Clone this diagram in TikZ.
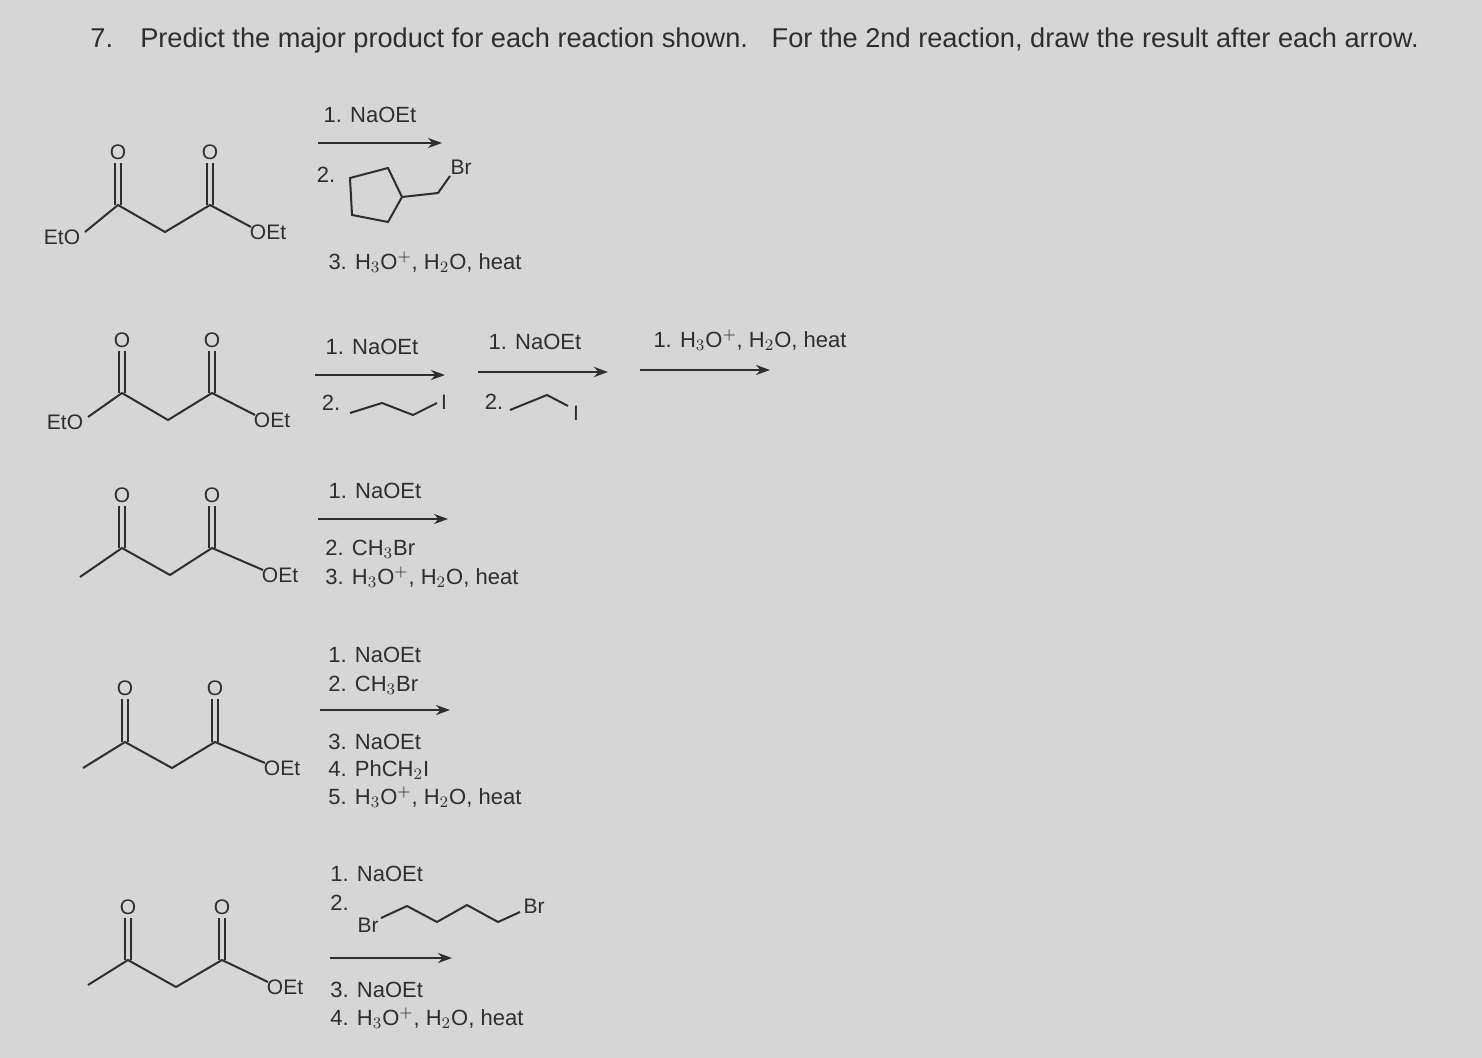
\documentclass[tikz,border=0pt]{standalone}
\usepackage{fontspec}
\setmainfont{Liberation Sans}
\usetikzlibrary{arrows.meta}
\definecolor{ink}{HTML}{2E2E2E}
\definecolor{bg}{HTML}{D6D6D6}
\begin{document}
\begin{tikzpicture}[x=0.5pt,y=-0.5pt,
  bd/.style={draw=ink,line width=1pt},
  rx/.style={draw=ink,line width=1.3pt,-{Stealth[length=7pt,width=5pt]}},
  lb/.style={text=ink,font=\fontsize{11}{12}\selectfont,inner sep=1pt},
  atm/.style={text=ink,font=\fontsize{10.5}{11}\selectfont,inner sep=0.5pt}]
\fill[bg] (0,0) rectangle (1482,1058);
\useasboundingbox (0,0) rectangle (1482,1058);
\node[lb,anchor=west,font=\fontsize{13.6}{15}\selectfont] (title) at (88,40) {7.\hspace{1em}Predict the major product for each reaction shown.\hspace{0.5em} For the 2nd reaction, draw the result after each arrow.};
\newcommand{\carb}[9]{%
  \draw[bd] (#1,#2) -- (#3,#4) -- (#5,#6) -- (#7,#4) -- (#9-17,#6-5);
  \draw[bd] (#3-3,#4) -- (#3-3,#8+11); \draw[bd] (#3+3,#4) -- (#3+3,#8+11);
  \draw[bd] (#7-3,#4) -- (#7-3,#8+11); \draw[bd] (#7+3,#4) -- (#7+3,#8+11);
  \node[atm] at (#3,#8) {O}; \node[atm] at (#7,#8) {O};
  \node[atm] at (#9,#6) {OEt};}
% R1
\carb{85}{232}{118}{205}{165}{232}{210}{152}{268}
\node[atm] (e1) at (62,237) {EtO};
\draw[rx] (318,143) -- (442,143);
\node[lb] (r1a) at (370,115) {1. NaOEt};
\node[lb] (r1b) at (326,175) {2.};
\draw[bd] (350,178)--(388,168)--(402,197)--(388,222)--(352,215)--cycle;
\draw[bd] (402,197)--(438,193)--(450,176);
\node[atm] (br1) at (461,167) {Br};
\node[lb] (r1c) at (425,262) {3. H$_3$O$^+$, H$_2$O, heat};
% R2
\carb{88}{417}{122}{393}{168}{420}{212}{340}{272}
\node[atm] (e2) at (65,422) {EtO};
\draw[rx] (315,375) -- (445,375);
\node[lb] (r2a) at (372,347) {1. NaOEt};
\node[lb] (r2b) at (331,403) {2.};
\draw[bd] (350,413)--(382,403)--(413,415)--(437,403);
\node[atm] (i1) at (444,402) {I};
\draw[rx] (478,372) -- (608,372);
\node[lb] (r2c) at (535,342) {1. NaOEt};
\node[lb] (r2d) at (494,402) {2.};
\draw[bd] (510,410)--(547,395)--(568,406);
\node[atm] (i2) at (576,413) {I};
\draw[rx] (640,370) -- (770,370);
\node[lb] (r2e) at (750,340) {1. H$_3$O$^+$, H$_2$O, heat};
% R3
\carb{80}{577}{122}{548}{170}{575}{212}{495}{280}
\draw[rx] (318,519) -- (448,519);
\node[lb] (r3a) at (375,491) {1. NaOEt};
\node[lb,anchor=west] (r3b) at (323,549) {2. CH$_3$Br};
\node[lb,anchor=west] (r3c) at (323,577) {3. H$_3$O$^+$, H$_2$O, heat};
% R4
\carb{83}{768}{125}{742}{172}{768}{215}{688}{282}
\node[lb,anchor=west] (r4a) at (326,655) {1. NaOEt};
\node[lb,anchor=west] (r4b) at (326,685) {2. CH$_3$Br};
\draw[rx] (320,710) -- (450,710);
\node[lb,anchor=west] (r4c) at (326,742) {3. NaOEt};
\node[lb,anchor=west] (r4d) at (326,770) {4. PhCH$_2$I};
\node[lb,anchor=west] (r4e) at (326,797) {5. H$_3$O$^+$, H$_2$O, heat};
% R5
\carb{88}{985}{128}{960}{176}{987}{222}{907}{285}
\node[lb,anchor=west] (r5a) at (328,874) {1. NaOEt};
\node[lb,anchor=west] (r5b) at (328,903) {2.};
\node[atm] (br2) at (368,925) {Br};
\draw[bd] (381,918)--(407,906)--(437,922)--(467,905)--(498,922)--(520,912);
\node[atm] (br3) at (534,906) {Br};
\draw[rx] (330,958) -- (452,958);
\node[lb,anchor=west] (r5c) at (328,990) {3. NaOEt};
\node[lb,anchor=west] (r5d) at (328,1018) {4. H$_3$O$^+$, H$_2$O, heat};
\end{tikzpicture}
\end{document}
